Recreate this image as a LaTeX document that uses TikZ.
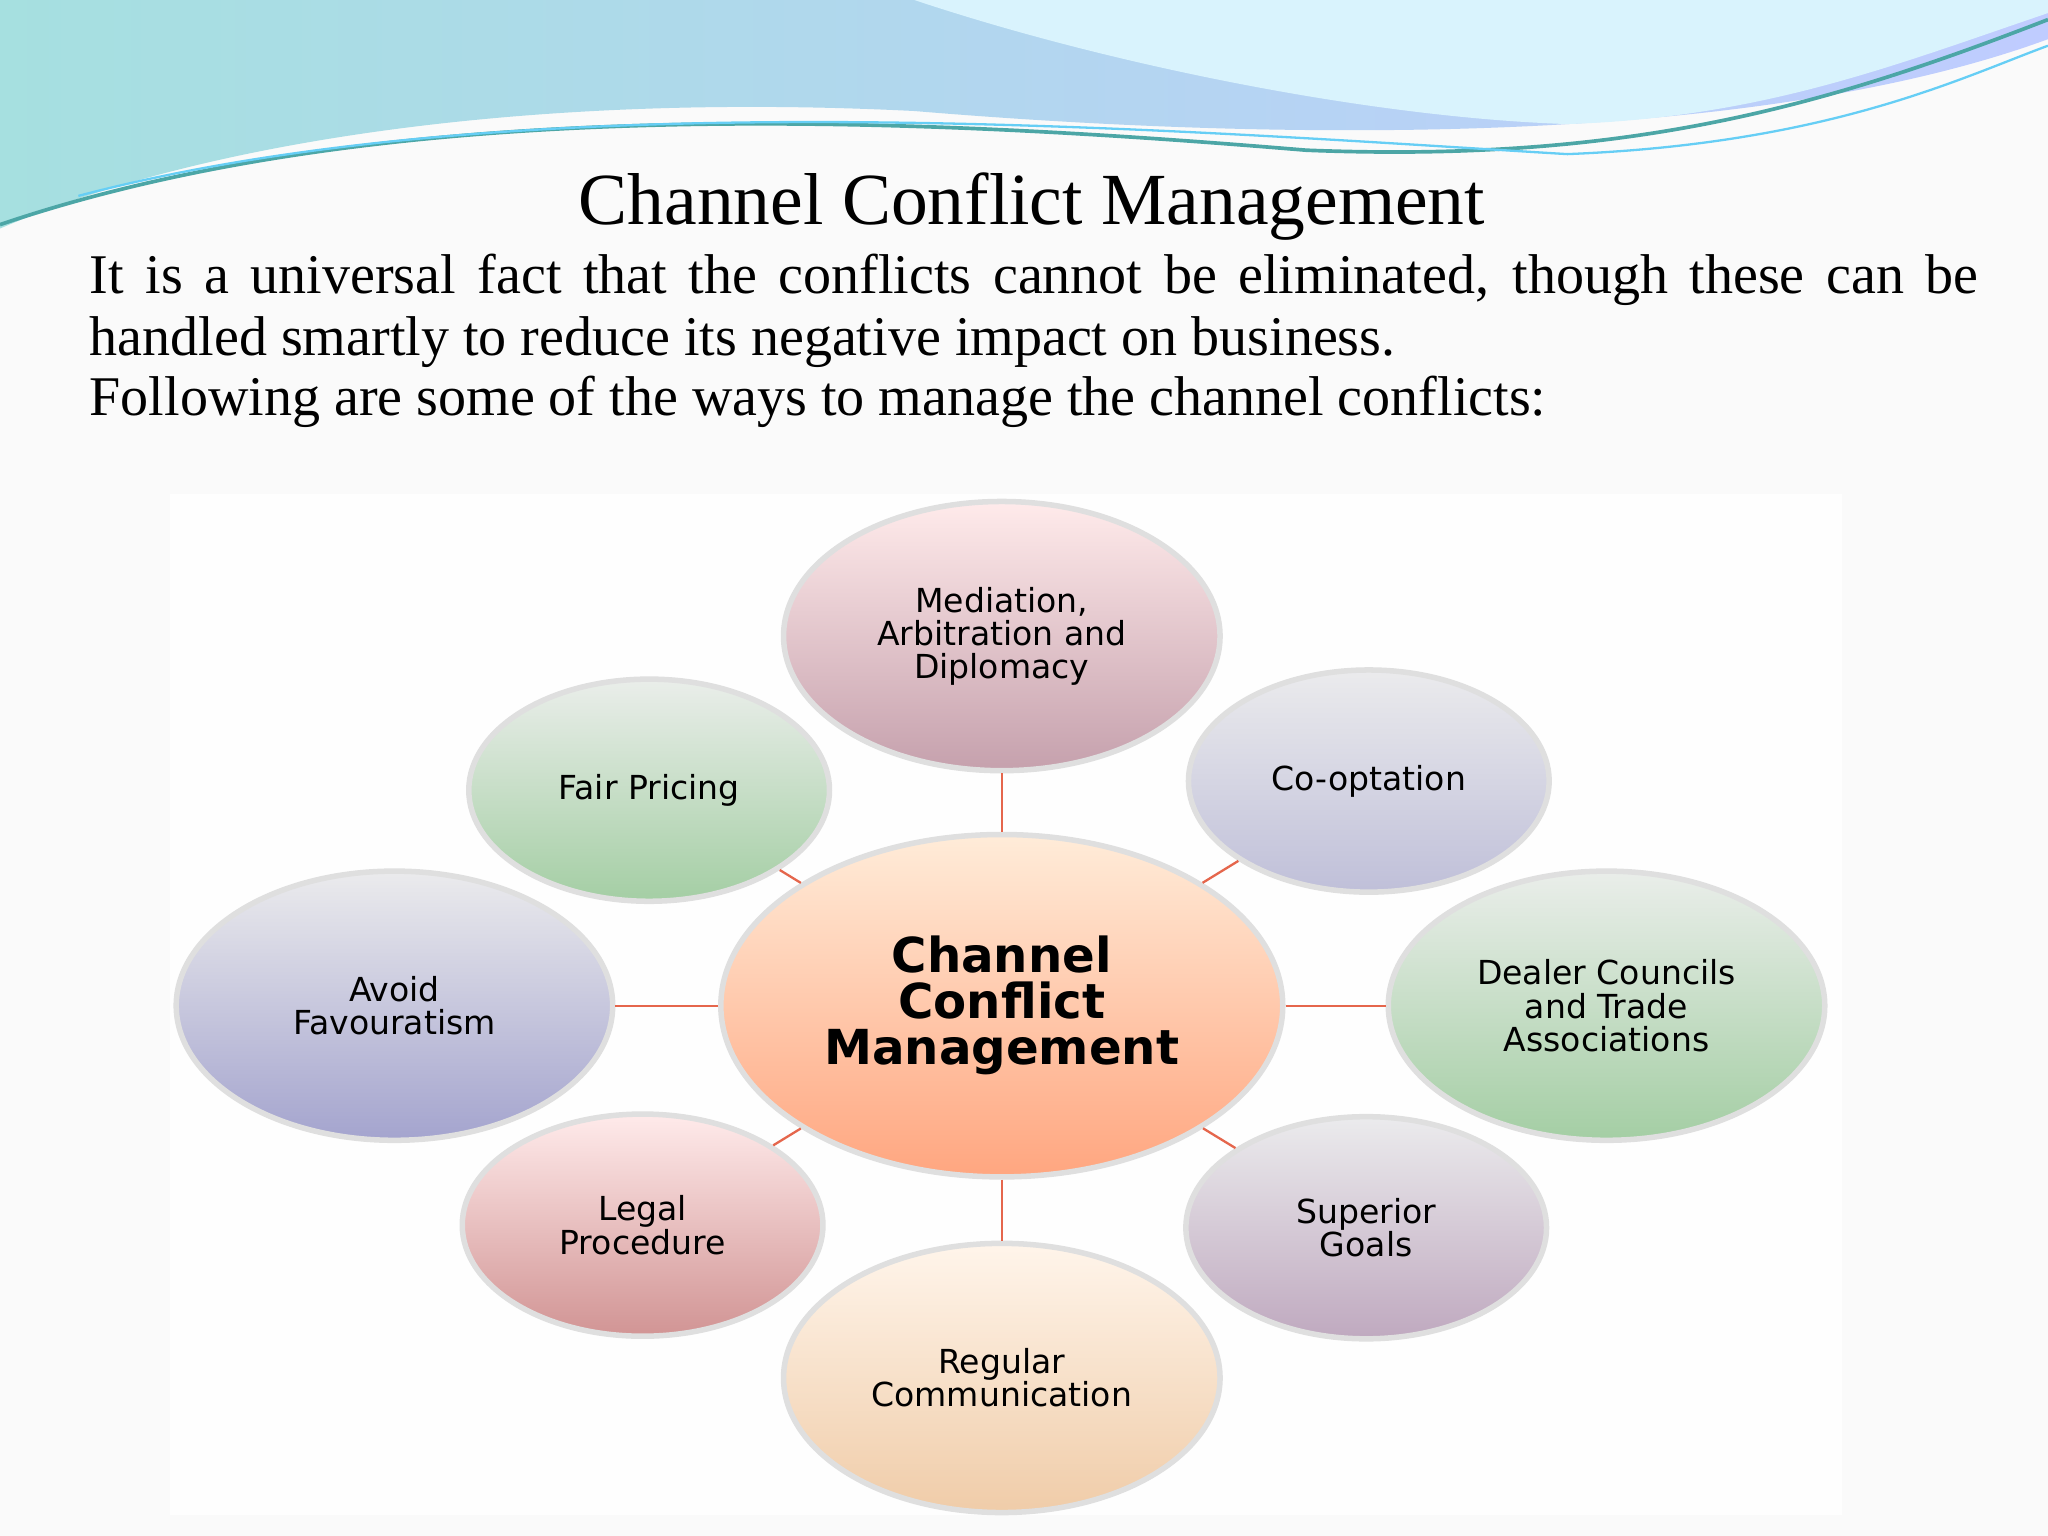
\documentclass[tikz,border=0pt]{standalone}
\usepackage{fontspec}
\setmainfont{Liberation Serif}
\newfontfamily\djvfont{DejaVu Sans}
\usetikzlibrary{shapes.geometric}
\begin{document}
\begin{tikzpicture}[x=0.01cm,y=-0.01cm,
  bub/.style={ellipse,draw=white!75!gray,line width=1.2pt,align=center,font=\djvfont\fontsize{7.2}{7.2}\selectfont,inner sep=0pt},
  big/.style={minimum width=3.34cm,minimum height=2.06cm},
  sml/.style={minimum width=2.76cm,minimum height=1.70cm},
  txt/.style={font=\fontsize{12.2}{13.3}\selectfont,anchor=base west,inner sep=0pt},
  con/.style={draw=red!50!brown!80,line width=0.5pt}]
\useasboundingbox (0,0) rectangle (1568,1176);
\fill[white!96!gray] (0,0) rectangle (1568,1176);
% header
\shade[left color=cyan!30!teal!35,right color=cyan!20!blue!25] (0,0) -- (1568,0) -- (1568,30) .. controls (1350,110) and (1000,110) .. (700,85) .. controls (400,70) and (150,110) .. (0,175) -- cycle;
\fill[white!85!cyan] (700,0) .. controls (850,50) and (1050,90) .. (1200,95) .. controls (1350,90) and (1450,50) .. (1568,10) -- (1568,0) -- cycle;
\draw[teal!70,line width=0.8pt] (0,172) .. controls (300,70) and (700,90) .. (1000,115) .. controls (1250,125) and (1400,80) .. (1568,15);
\draw[cyan!60,line width=0.5pt] (60,150) .. controls (400,60) and (900,100) .. (1200,118) .. controls (1400,110) and (1500,60) .. (1568,35);
\node[font=\fontsize{16}{19}\selectfont] (title) at (790,158) {Channel Conflict Management};
\node[txt] (l1) at (68,225) {\hbox to 14.45cm{It is a universal fact that the conflicts cannot be eliminated, though these can be}};
\node[txt] (l2) at (68,272) {handled smartly to reduce its negative impact on business.};
\node[txt] (l3) at (68,318) {Following are some of the ways to manage the channel conflicts:};
% diagram bg
\fill[white!99!gray] (130,378) rectangle (1410,1160);
\coordinate (c) at (767,770);
\node[bub,minimum width=4.30cm,minimum height=2.62cm,top color=orange!15!white,bottom color=orange!60!red!50,font=\djvfont\bfseries\fontsize{10.5}{10}\selectfont] (ctr) at (c) {Channel\\Conflict\\Management};
\node[bub,big,top color=red!8,bottom color=purple!35!gray!55] (med) at (767,487) {Mediation,\\Arbitration and\\Diplomacy};
\node[bub,sml,top color=green!10!gray!15,bottom color=green!30!gray!55] (fair) at (497,605) {Fair Pricing};
\node[bub,sml,top color=blue!5!gray!15,bottom color=blue!25!gray!40] (coop) at (1048,598) {Co-optation};
\node[bub,big,top color=blue!5!gray!15,bottom color=blue!30!gray!55] (avoid) at (302,770) {Avoid\\Favouratism};
\node[bub,big,top color=green!10!gray!15,bottom color=green!30!gray!55] (deal) at (1230,770) {Dealer Councils\\and Trade\\Associations};
\node[bub,sml,top color=red!8,bottom color=red!40!gray!60] (legal) at (492,938) {Legal\\Procedure};
\node[bub,sml,top color=blue!5!gray!15,bottom color=violet!35!gray!50] (sup) at (1046,940) {Superior\\Goals};
\node[bub,big,top color=orange!8,bottom color=orange!40!brown!40] (reg) at (767,1055) {Regular\\Communication};
\foreach \n in {med,fair,coop,avoid,deal,legal,sup,reg} \draw[con] (ctr) -- (\n);
\end{tikzpicture}
\end{document}
